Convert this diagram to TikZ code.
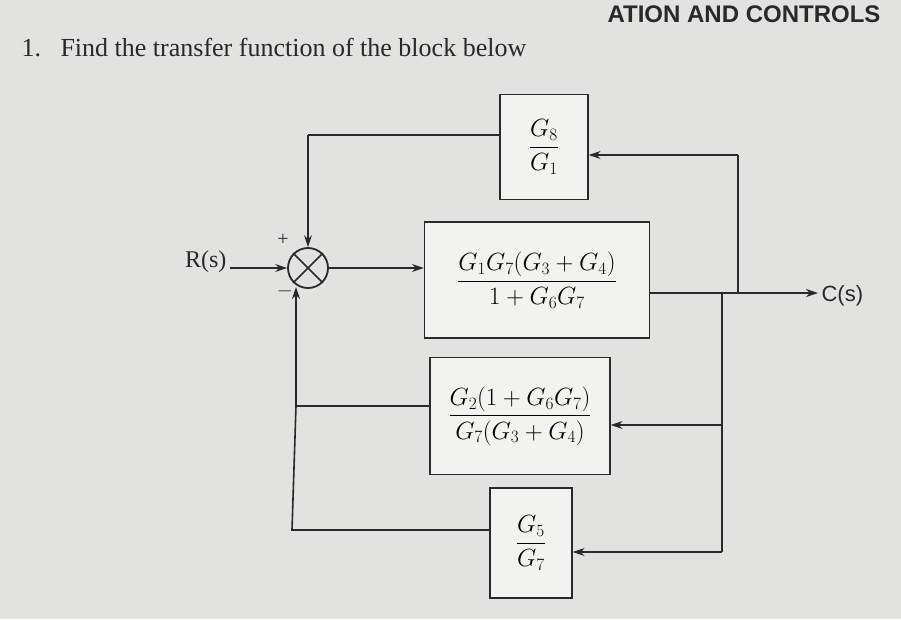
\documentclass[tikz,border=0pt]{standalone}
\usepackage{amsmath}
\usepackage{fontspec}
\setmainfont{Liberation Serif}
\newfontfamily\hsans{Liberation Sans}
\usetikzlibrary{arrows.meta}
\definecolor{bg}{RGB}{226,226,224}
\definecolor{ink}{RGB}{40,40,45}
\begin{document}
\begin{tikzpicture}[x=1pt,y=-1pt,
  blk/.style={draw=ink,line width=1.3pt,fill=white!55!bg,inner sep=0pt,font=\fontsize{26}{30}\selectfont},
  ln/.style={draw=ink,line width=1.6pt},
  ar/.style={ln,-{Stealth[length=12pt,width=8pt]}},
  lbl/.style={text=ink,font=\fontsize{24}{26}\selectfont}]
\fill[bg] (0,0) rectangle (901,619);
\node[anchor=east,text=ink,font=\hsans\bfseries\fontsize{24}{26}\selectfont] (hdr) at (884,14) {ATION AND CONTROLS};
\node[anchor=west,text=ink,font=\fontsize{26}{28}\selectfont] (q) at (18,48) {1.\ \ \ Find the transfer function of the block below};
% blocks
\node[blk,minimum width=88pt,minimum height=105pt] (b1) at (544,147) {$\dfrac{G_8}{G_1}$};
\node[blk,minimum width=225pt,minimum height=116pt] (b2) at (537,280) {$\dfrac{G_1G_7(G_3+G_4)}{1+G_6G_7}$};
\node[blk,minimum width=180pt,minimum height=117pt] (b3) at (520,416) {$\dfrac{G_2(1+G_6G_7)}{G_7(G_3+G_4)}$};
\node[blk,minimum width=82pt,minimum height=110pt] (b4) at (531,543) {$\dfrac{G_5}{G_7}$};
\node[draw=ink,line width=1.8pt,circle,minimum size=40pt,inner sep=0pt] (s) at (308,268) {};
\draw[ln] (s.north west) -- (s.south east) (s.north east) -- (s.south west);
\node[lbl,anchor=east] (r) at (230,262) {R(s)};
\node[lbl,anchor=west,font=\hsans\fontsize{22}{24}\selectfont] (c) at (818,296) {C(s)};
\node[text=ink,font=\fontsize{20}{22}\selectfont] (pl) at (283,240) {+};
\node[text=ink,font=\fontsize{22}{24}\selectfont] (mi) at (285,291) {$-$};
\coordinate (o1) at (738,293);
\coordinate (o2) at (722,293);
\draw[ar] (r.east |- s.west) -- (s.west);
\draw[ar] (s.east) -- (b2.west |- s.east);
\draw[ar] (b2.east |- o1) -- (c.west |- o1);
\draw[ln] (o1) -- (738,155);
\draw[ar] (738,155) -- (b1.east |- 0,155);
\draw[ln] (o2) -- (722,552);
\draw[ar] (722,425) -- (b3.east |- 0,425);
\draw[ar] (722,552) -- (b4.east |- 0,552);
\draw[ln] (b1.west |- 0,135) -- (308,135);
\draw[ar] (308,135) -- (s.north);
\draw[ln] (b3.west |- 0,406) -- (296,406);
\draw[ln] (b4.west |- 0,530) -- (292,530) -- (296,406);
\draw[ar] (296,406) -- (296,287);
\end{tikzpicture}
\end{document}
